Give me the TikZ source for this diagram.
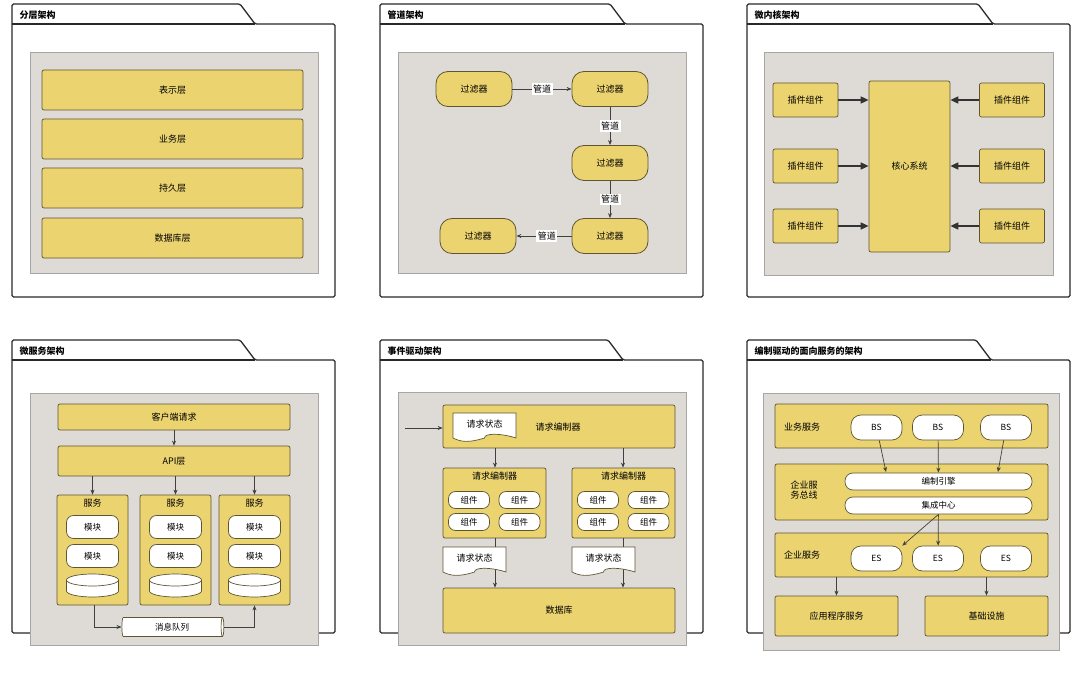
\documentclass[tikz,border=0pt]{standalone}
\usepackage{fontspec}
\setmainfont{Noto Sans CJK SC}
\usetikzlibrary{shapes.geometric,arrows.meta}
\definecolor{yel}{RGB}{235,211,112}
\definecolor{gry}{RGB}{222,219,215}
\definecolor{frm}{RGB}{40,40,40}
\definecolor{ybd}{RGB}{95,85,50}
\tikzset{
  frame/.style={draw=frm,line width=1.3pt,fill=white,rounded corners=1.5pt},
  inner/.style={fill=gry,draw=gray!70,line width=0.6pt},
  ybox/.style={fill=yel,draw=ybd,line width=0.7pt,rounded corners=2pt,font=\fontsize{9}{10}\selectfont,inner sep=0pt},
  wbox/.style={fill=white,draw=ybd,line width=0.7pt,rounded corners=7pt,font=\fontsize{8.5}{10}\selectfont,inner sep=0pt},
  filt/.style={fill=yel,draw=ybd,line width=0.8pt,rounded corners=12pt,font=\fontsize{9}{10}\selectfont,inner sep=0pt,minimum width=76pt,minimum height=35pt},
  plug/.style={ybox,minimum width=65pt,minimum height=34pt},
  arr/.style={-{Stealth[length=5pt,width=4pt]},draw=black!75,line width=0.7pt},
  tarr/.style={-{Triangle[length=8pt,width=7pt]},draw=black!80,line width=1.6pt},
  pipe/.style={fill=white,inner sep=1.5pt,font=\fontsize{9}{10}\selectfont},
  ttl/.style={anchor=west,font=\fontsize{9}{10}\selectfont\bfseries},
  lbl/.style={font=\fontsize{9}{10}\selectfont,inner sep=0pt},
  disk/.style={fill=white,draw=ybd,line width=0.7pt},
}
\newcommand{\folder}[5]{% x1 x2 tabend ytop title
  \pgfmathsetmacro{\yb}{#4+20}
  \pgfmathsetmacro{\ybot}{#4+293}
  \pgfmathsetmacro{\sl}{#3+15}
  \draw[frame] (#1,#4) -- (#3,#4) -- (\sl,\yb) -- (#2,\yb) -- (#2,\ybot) -- (#1,\ybot) -- cycle;
  \draw[frm,line width=1.3pt] (#1,\yb) -- (\sl,\yb);
  \node[ttl] at (#1+4,#4+11) {#5};
}
\newcommand{\docshape}[6]{% name x1 y1 x2 y2 text
  \pgfmathsetmacro{\dw}{(#4-#2)/4}
  \draw[fill=white,draw=ybd,line width=0.7pt] (#2,#3) -- (#4,#3) -- (#4,#5)
    .. controls (#4-\dw,#5-5) and (#4-2*\dw,#5-5) .. (#2+2*\dw,#5)
    .. controls (#2+\dw,#5+5) and (#2+0.5*\dw,#5+4) .. (#2,#5) -- cycle;
  \node[lbl] (#1) at ({(#2+#4)/2},{(#3+#5)/2-1}) {#6};
}
\begin{document}
\begin{tikzpicture}[x=1pt,y=-1pt]
\useasboundingbox (0,0) rectangle (1080,674);
% ===== frames
\folder{12}{335}{240}{4}{分层架构}
\folder{380}{703}{610}{4}{管道架构}
\folder{747}{1070}{978}{4}{微内核架构}
\folder{12}{335}{240}{340}{微服务架构}
\folder{380}{703}{608}{340}{事件驱动架构}
\folder{747}{1070}{976}{340}{编制驱动的面向服务的架构}
\draw[inner] (30,52) rectangle (318,273);
\draw[inner] (398,52) rectangle (686,273);
\draw[inner] (764,52) rectangle (1053,275);
\draw[inner] (30,393) rectangle (318,645);
\draw[inner] (398,392) rectangle (686,645);
\draw[inner] (763,393) rectangle (1059,650);
% ===== panel 1
\node[ybox,minimum width=261pt,minimum height=40pt] (l1) at (172.5,90) {表示层};
\node[ybox,minimum width=261pt,minimum height=40pt] (l2) at (172.5,139) {业务层};
\node[ybox,minimum width=261pt,minimum height=40pt] (l3) at (172.5,188) {持久层};
\node[ybox,minimum width=261pt,minimum height=40pt] (l4) at (172.5,238) {数据库层};
% ===== panel 2
\node[filt] (f1) at (474,89) {过滤器};
\node[filt] (f2) at (610,89) {过滤器};
\node[filt] (f3) at (610,163) {过滤器};
\node[filt] (f4) at (610,236) {过滤器};
\node[filt] (f5) at (478,236) {过滤器};
\draw[arr] (f1) -- node[pipe]{管道} (f2);
\draw[arr] (f2) -- node[pipe]{管道} (f3);
\draw[arr] (f3) -- node[pipe]{管道} (f4);
\draw[arr] (f4) -- node[pipe,pos=0.45]{管道} (f5);
% ===== panel 3
\node[ybox,minimum width=81pt,minimum height=171pt] (core) at (909.5,166.5) {核心系统};
\foreach \i/\y in {1/100,2/166,3/226}{
  \node[plug] (pl\i) at (805.5,\y) {插件组件};
  \node[plug] (pr\i) at (1012,\y) {插件组件};
  \draw[tarr] (pl\i.east) -- (pl\i.east -| core.west);
  \draw[tarr] (pr\i.west) -- (pr\i.west -| core.east);
}
% ===== panel 4
\node[ybox,minimum width=232pt,minimum height=26pt] (cli) at (174,417) {客户端请求};
\node[ybox,minimum width=232pt,minimum height=30pt] (api) at (174,461) {API层};
\draw[arr] (cli) -- (api);
\foreach \i/\x in {1/92.5,2/175.5,3/254.5}{
  \node[ybox,minimum width=71pt,minimum height=110pt] (s\i) at (\x,550) {};
  \node[lbl] at (\x,503) {服务};
  \node[wbox,minimum width=52pt,minimum height=23pt] (m\i a) at (\x,527) {模块};
  \node[wbox,minimum width=52pt,minimum height=23pt] (m\i b) at (\x,556) {模块};
  \draw[disk] (\x-26,580) -- (\x-26,591) arc[start angle=180,end angle=0,x radius=26,y radius=6] -- (\x+26,580);
  \draw[disk] (\x,580) ellipse[x radius=26,y radius=6];
  \draw[arr] (api.south -| s\i.north) -- (s\i.north);
}
\node[cylinder,aspect=0.35,draw=ybd,fill=white,line width=0.7pt,minimum width=19pt,minimum height=102pt,inner sep=0pt,font=\fontsize{8.5}{10}\selectfont] (mq) at (172,627) {消息队列};
\draw[arr] (s1.south -| 94,0) |- (mq.west);
\draw[arr] (mq.east) -| (s3.south);
% ===== panel 5
\node[ybox,minimum width=232pt,minimum height=43pt] (orc) at (559,426.5) {};
\node[lbl] at (558,427) {请求编制器};
\docshape{st0}{453}{413}{516}{438}{请求状态}
\coordinate (in) at (405,428);
\draw[arr] (in) -- (in -| orc.west);
\foreach \i/\x/\ca/\cb in {1/494.5/469/519.5,2/623.5/598/648.5}{
  \node[ybox,minimum width=103pt,minimum height=70pt] (o\i) at (\x,503) {};
  \node[lbl] at (\x,476) {请求编制器};
  \node[wbox,minimum width=41pt,minimum height=17pt] (c\i a) at (\ca,500) {组件};
  \node[wbox,minimum width=41pt,minimum height=17pt] (c\i b) at (\cb,500) {组件};
  \node[wbox,minimum width=41pt,minimum height=17pt] (c\i c) at (\ca,522) {组件};
  \node[wbox,minimum width=41pt,minimum height=17pt] (c\i d) at (\cb,522) {组件};
}
\node[ybox,minimum width=232pt,minimum height=45pt] (db) at (559,610.5) {数据库};
\draw[arr] (orc.south -| 495,0) -- (o1.north -| 495,0);
\draw[arr] (orc.south -| 623,0) -- (o2.north -| 623,0);
\draw[arr] (o1.south -| 495,0) -- (db.north -| 495,0);
\draw[arr] (o2.south -| 623,0) -- (db.north -| 623,0);
\docshape{st1}{443}{547}{506}{572}{请求状态}
\docshape{st2}{572}{547}{635}{572}{请求状态}
% ===== panel 6
\node[ybox,minimum width=273pt,minimum height=44pt] (r1) at (911.5,426) {};
\node[lbl] at (802,427) {业务服务};
\node[ybox,minimum width=273pt,minimum height=56pt] (r2) at (911.5,492) {};
\node[lbl,align=center] at (804,490) {企业服\\务总线};
\node[ybox,minimum width=273pt,minimum height=44pt] (r3) at (911.5,555) {};
\node[lbl] at (802,555) {企业服务};
\node[wbox,minimum width=187pt,minimum height=17pt,rounded corners=8pt] (eng) at (938.5,481.5) {编制引擎};
\node[wbox,minimum width=187pt,minimum height=17pt,rounded corners=8pt] (hub) at (938.5,505.5) {集成中心};
\foreach \i/\x in {1/876.5,2/938,3/1006}{
  \node[wbox,minimum width=51pt,minimum height=25pt,rounded corners=10pt] (bs\i) at (\x,427.5) {BS};
  \node[wbox,minimum width=51pt,minimum height=25pt,rounded corners=10pt] (es\i) at (\x,558.5) {ES};
}
\coordinate (e1) at (886,472);
\coordinate (e3) at (998,472);
\draw[arr] (bs1) -- (e1);
\draw[arr] (bs2) -- (eng);
\draw[arr] (bs3) -- (e3);
\draw[arr] (hub.south) -- (es1.north east);
\draw[arr] (hub) -- (es2);
\node[ybox,minimum width=123pt,minimum height=40pt] (app) at (836.5,616) {应用程序服务};
\node[ybox,minimum width=123pt,minimum height=40pt] (inf) at (986.5,616) {基础设施};
\draw[arr] (r3.south -| app) -- (app);
\draw[arr] (r3.south -| inf) -- (inf);
\end{tikzpicture}
\end{document}
